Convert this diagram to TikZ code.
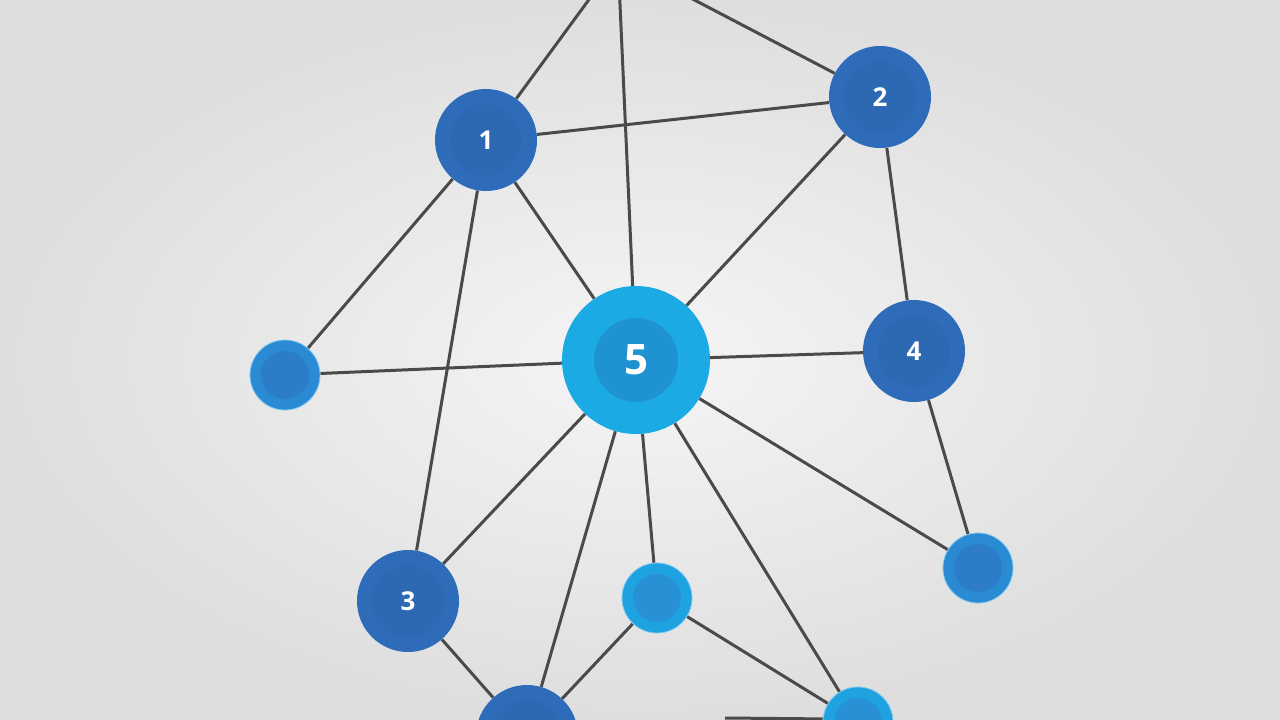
\documentclass[tikz,border=0pt]{standalone}
\usepackage{fontspec}
\setmainfont{Open Sans}
\pgfdeclarelayer{bg}
\pgfdeclarelayer{edges}
\pgfsetlayers{bg,edges,main}
\definecolor{bgc}{HTML}{F5F5F5}
\definecolor{bgo}{HTML}{DEDEDE}
\definecolor{edgec}{HTML}{4A4A4A}
\definecolor{darkout}{HTML}{2E6CB9}
\definecolor{darkin}{HTML}{2D69B3}
\definecolor{smout}{HTML}{2A8AD4}
\definecolor{smin}{HTML}{2D7CC8}
\definecolor{ltout}{HTML}{1FA2E0}
\definecolor{ltin}{HTML}{2890D4}
\definecolor{cout}{HTML}{1BAAE3}
\definecolor{cin}{HTML}{1F92D2}
\definecolor{rim}{HTML}{7CC8F0}
\tikzset{
  edge/.style={draw=edgec, line width=3pt},
  bignd/.style={circle, fill=darkout, minimum size=102pt, inner sep=0pt},
  smallnd/.style={circle, fill=smout, draw=rim, line width=0.8pt, minimum size=70pt, inner sep=0pt},
  lightnd/.style={circle, fill=ltout, draw=rim, line width=0.8pt, minimum size=70pt, inner sep=0pt},
  centernd/.style={circle, fill=cout, minimum size=148pt, inner sep=0pt},
  lbl/.style={text=white, font=\bfseries\fontsize{26}{26}\selectfont},
}
\begin{document}
\begin{tikzpicture}[x=1pt,y=-1pt]
\begin{pgfonlayer}{bg}
\shade[inner color=bgc, outer color=bgo] (0,0) rectangle (1280,720);
\end{pgfonlayer}
\useasboundingbox (0,0) rectangle (1280,720);

\node[bignd] (n1) at (486,140) {};
\node[bignd] (n2) at (880,97) {};
\node[bignd] (n3) at (408,601) {};
\node[bignd] (n4) at (914,351) {};
\node[bignd] (bl) at (527,736) {};
\node[centernd] (n5) at (636,360) {};
\node[smallnd] (sl) at (285,375) {};
\node[smallnd] (sr) at (978,568) {};
\node[lightnd] (sm) at (657,598) {};
\node[lightnd] (br) at (858,722) {};
\coordinate (top) at (618,-40);
\coordinate (off) at (725,718);

\foreach \n in {n1,n2,n3,n4,bl}{\fill[darkin] (\n.center) circle (36);}
\foreach \n in {sl,sr}{\fill[smin] (\n.center) circle (24);}
\foreach \n in {sm,br}{\fill[ltin] (\n.center) circle (24);}
\fill[cin] (n5.center) circle (42);

\node[lbl] (t1) at (n1.center) {1};
\node[lbl] (t2) at (n2.center) {2};
\node[lbl] (t3) at (n3.center) {3};
\node[lbl] (t4) at (n4.center) {4};
\node[text=white, font=\bfseries\fontsize{42}{42}\selectfont] (t5) at (n5.center) {5};

\begin{pgfonlayer}{edges}
\draw[edge] (n1) -- (top);
\draw[edge] (n5) -- (top);
\draw[edge] (n2) -- (top);
\draw[edge] (n1) -- (n2);
\draw[edge] (n1) -- (n5);
\draw[edge] (n1) -- (sl);
\draw[edge] (n1) -- (n3);
\draw[edge] (n2) -- (n5);
\draw[edge] (n2) -- (n4);
\draw[edge] (n5) -- (n4);
\draw[edge] (n5) -- (sl);
\draw[edge] (n5) -- (n3);
\draw[edge] (n5) -- (bl);
\draw[edge] (n5) -- (sm);
\draw[edge] (n5) -- (br);
\draw[edge] (n5) -- (sr);
\draw[edge] (n4) -- (sr);
\draw[edge] (n3) -- (bl);
\draw[edge] (sm) -- (bl);
\draw[edge] (sm) -- (br);
\draw[edge] (br.175) -- (off);
\end{pgfonlayer}
\end{tikzpicture}
\end{document}
